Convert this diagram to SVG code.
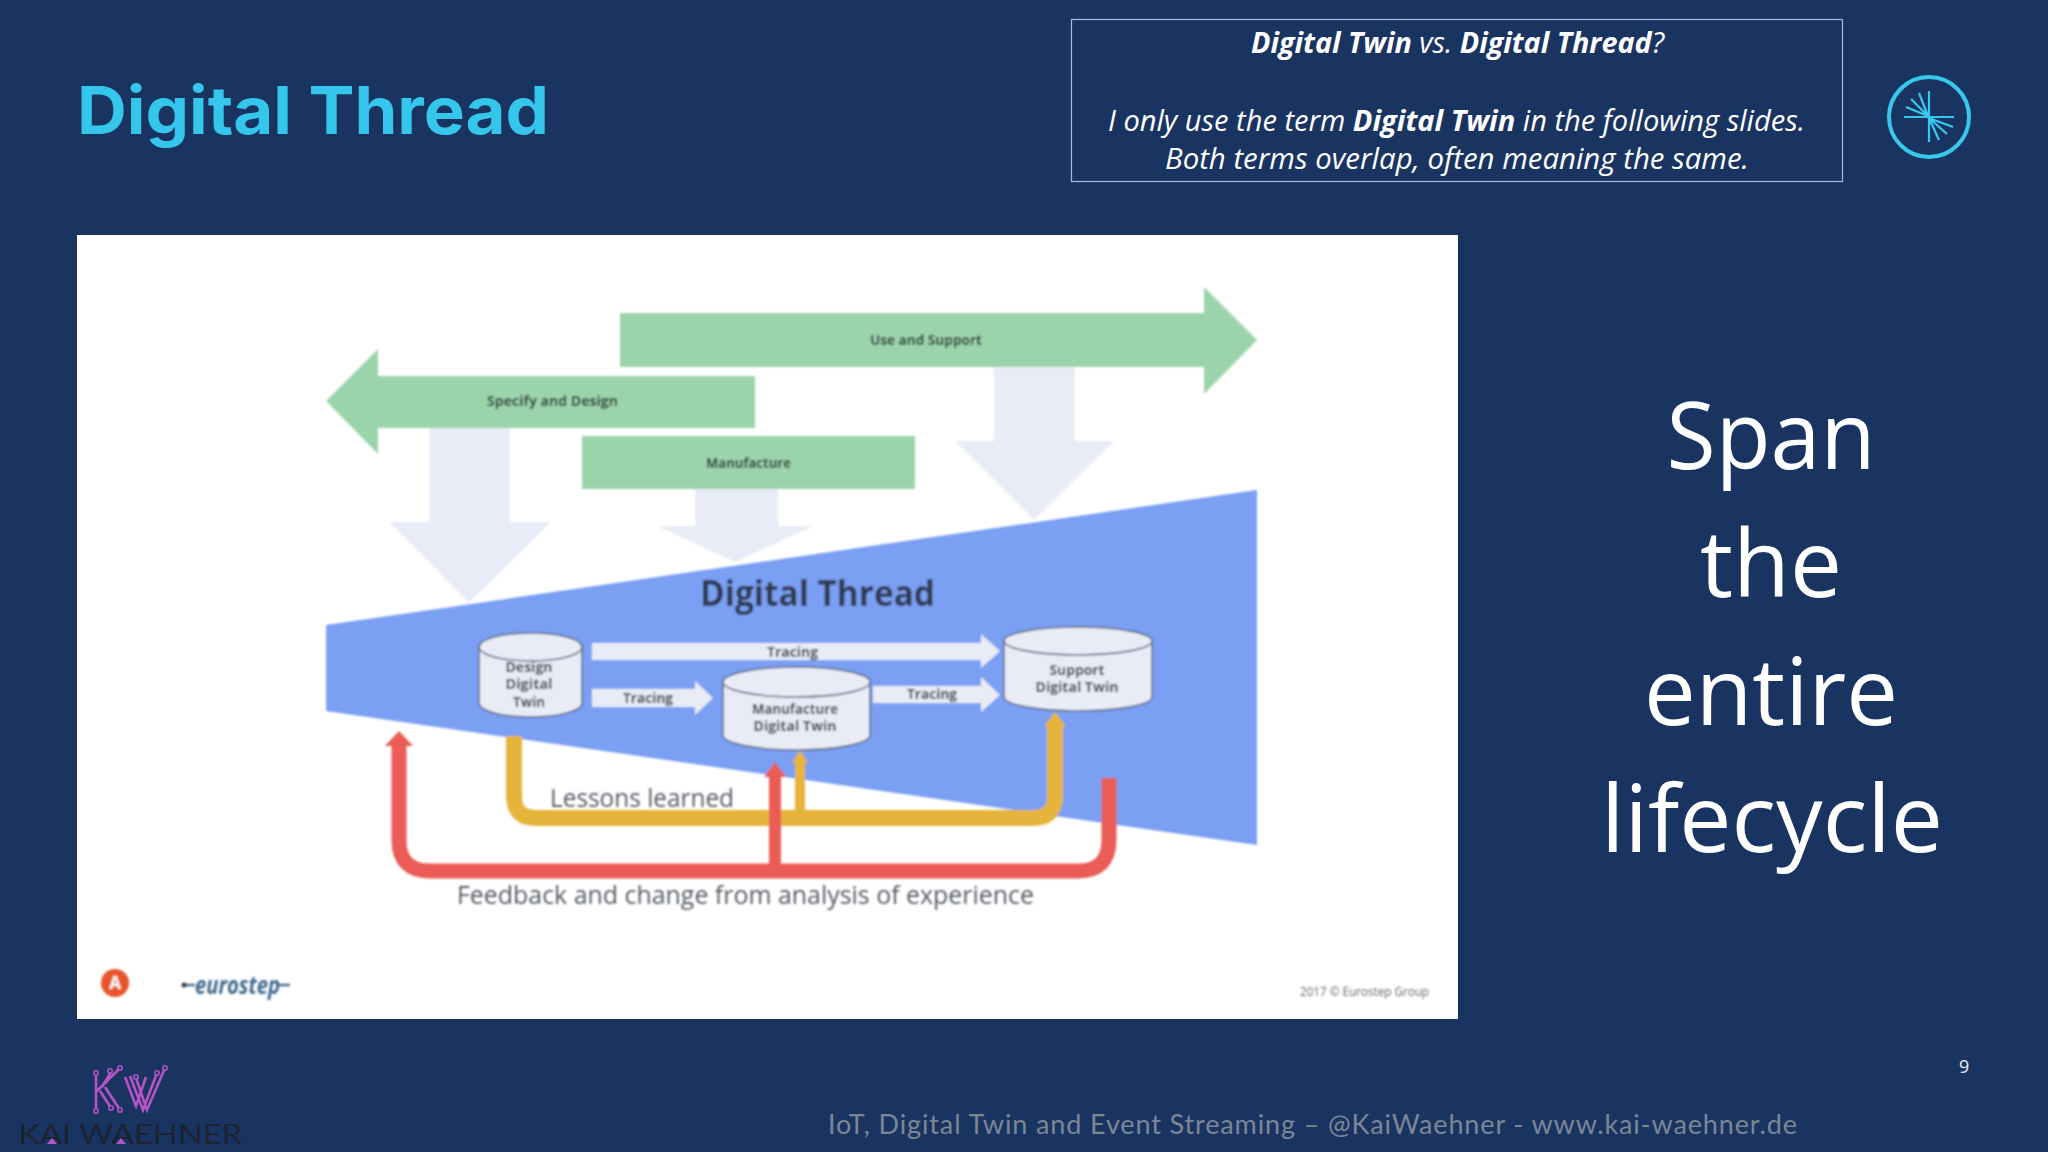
<svg xmlns="http://www.w3.org/2000/svg" width="2048" height="1152" viewBox="0 0 2048 1152">
<defs>
<filter id="soft" x="0" y="0" width="1" height="1" filterUnits="objectBoundingBox"><feGaussianBlur stdDeviation="1"/></filter>
<filter id="soft2" x="-5%" y="-5%" width="110%" height="110%"><feGaussianBlur stdDeviation="0.5"/></filter>
</defs>
<style>
.green{fill:#9bd4aa}
.pale{fill:#e9ecf6}
.cyl{fill:#e9ecf6;stroke:#5d6b82;stroke-width:1.6}
.sans{font-family:"Open Sans","Liberation Sans",sans-serif}
.lbl{font-family:"Open Sans","Liberation Sans",sans-serif;font-weight:700;font-size:14px;fill:#2c3b3c}
.cl{font-family:"Open Sans","Liberation Sans",sans-serif;font-weight:700;font-size:14px;fill:#38414f;text-anchor:middle}
.hand{font-family:"Open Sans","Liberation Sans",sans-serif;font-size:26px;fill:#555b63}
.note{font-family:"Open Sans","Liberation Sans",sans-serif;font-style:italic;font-size:29px;fill:#fff}
.note .b{font-weight:700}
.big{font-family:"Open Sans","Liberation Sans",sans-serif;font-size:93px;fill:#fff;text-anchor:middle}
.kw{fill:none;stroke:#b653c6;stroke-width:2.6}
.kwd{fill:#1a3462;stroke:#b653c6;stroke-width:1.5}
</style>
<rect width="2048" height="1152" fill="#1a3462"/>

<g id="title"><text x="77" y="134" font-family="Inter,Lato,sans-serif" font-weight="700" font-size="66" fill="#35c6ec" textLength="472" lengthAdjust="spacingAndGlyphs">Digital Thread</text></g>

<g id="note">
<rect x="1071.5" y="19.5" width="771" height="162" fill="none" stroke="#a3bcdc" stroke-width="1.2"/>
<text class="note" x="1251" y="53" textLength="413" lengthAdjust="spacingAndGlyphs"><tspan class="b">Digital Twin</tspan> vs. <tspan class="b">Digital Thread</tspan>?</text>
<text class="note" x="1108" y="130.500" textLength="697" lengthAdjust="spacingAndGlyphs">I only use the term <tspan class="b">Digital Twin</tspan> in the following slides.</text>
<text class="note" x="1165" y="168.500" textLength="584" lengthAdjust="spacingAndGlyphs">Both terms overlap, often meaning the same.</text>
</g>

<g id="confluent-logo" fill="none" stroke="#37c8ec">
<circle cx="1929" cy="117" r="40" stroke-width="4"/>
<path stroke-width="2.2" d="M1904,117H1954M1929,91V142M1928,116L1919,93M1928,116L1911,99M1928,116L1906,107M1929,118L1939,140M1929,118L1947,134M1929,118L1953,127"/>
</g>

<g id="picture-background"><rect x="77" y="235" width="1381" height="784" fill="#fff"/></g>

<g filter="url(#soft)">
<rect x="77" y="235" width="1381" height="784" fill="#fff" fill-opacity="0"/>

<g id="lane-arrows">
<polygon class="pale" points="429,428 510,428 510,522 551,522 469,603 389,522 429,522"/>
<polygon class="pale" points="695,489 778,489 778,526 813,526 735,562 657,526 695,526"/>
<polygon class="pale" points="994,367 1075,367 1075,441 1114,441 1034,520 955,441 994,441"/>
</g>

<g id="use-and-support">
<polygon class="green" points="620,313 1204,313 1204,287 1257,340 1204,394 1204,367 620,367"/>
<text class="lbl" x="870" y="345" textLength="112" lengthAdjust="spacingAndGlyphs">Use and Support</text>
</g>
<g id="specify-and-design">
<polygon class="green" points="755,376 378,376 378,349 326,401 378,454 378,428 755,428"/>
<text class="lbl" x="487" y="406" textLength="131" lengthAdjust="spacingAndGlyphs">Specify and Design</text>
</g>
<g id="manufacture">
<rect class="green" x="582" y="436" width="333" height="53"/>
<text class="lbl" x="706" y="468" textLength="85" lengthAdjust="spacingAndGlyphs">Manufacture</text>
</g>

<g id="digital-thread-wedge">
<polygon points="326,625 1257,490 1257,845 326,711" fill="#7a9ff3"/>
<text class="sans" x="700" y="606" font-weight="700" font-size="35" fill="#2e3a50" textLength="235" lengthAdjust="spacingAndGlyphs">Digital Thread</text>
</g>

<g id="connectors">
<g id="tracing-arrows">
<polygon class="pale" points="592,643 981,643 981,634 1000,651 981,668 981,660 592,660"/>
<polygon class="pale" points="592,689 695,689 695,681 713,698 695,715 695,707 592,707"/>
<polygon class="pale" points="873,686 981,686 981,677 1000,695 981,712 981,703 873,703"/>
<text class="lbl" x="767" y="657" textLength="51" lengthAdjust="spacingAndGlyphs">Tracing</text>
<text class="lbl" x="623" y="703" textLength="50" lengthAdjust="spacingAndGlyphs">Tracing</text>
<text class="lbl" x="907" y="699" textLength="50" lengthAdjust="spacingAndGlyphs">Tracing</text>
</g>
<g id="lessons-learned">
<path d="M800,818V760" fill="none" stroke="#e6b33a" stroke-width="10"/>
<polygon points="800,750 808,763 792,763" fill="#e6b33a"/>
<path d="M514,736V796Q514,818 536,818H1033Q1055,818 1055,796V722" fill="none" stroke="#e6b33a" stroke-width="16"/>
<polygon points="1055,712 1066,726 1044,726" fill="#e6b33a"/>
<text class="hand" x="550" y="807" textLength="184" lengthAdjust="spacingAndGlyphs">Lessons learned</text>
</g>
<g id="feedback">
<path d="M775,871V770" fill="none" stroke="#ea5b55" stroke-width="12"/>
<polygon points="775,762 786,777 764,777" fill="#ea5b55"/>
<path d="M399,742V840Q399,871 430,871H1078Q1109,871 1109,840V778" fill="none" stroke="#ea5b55" stroke-width="15"/>
<polygon points="399,731 413,746 385,746" fill="#ea5b55"/>
<text class="hand" x="457" y="904" textLength="577" lengthAdjust="spacingAndGlyphs">Feedback and change from analysis of experience</text>
</g>
</g>

<g id="design-digital-twin">
<path class="cyl" d="M479,647V703A51.500,14 0 0 0 582,703V647A51.500,14 0 0 0 479,647Z"/>
<path class="cyl" d="M479,647A51.500,14 0 0 0 582,647" style="fill:none"/>
<text class="cl" x="529" y="672" textLength="47" lengthAdjust="spacingAndGlyphs">Design</text><text class="cl" x="529" y="689" textLength="47" lengthAdjust="spacingAndGlyphs">Digital</text><text class="cl" x="529" y="707" textLength="32" lengthAdjust="spacingAndGlyphs">Twin</text>
</g>
<g id="manufacture-digital-twin">
<path class="cyl" d="M723,682V735A73.500,15 0 0 0 870,735V682A73.500,15 0 0 0 723,682Z"/>
<path class="cyl" d="M723,682A73.500,15 0 0 0 870,682" style="fill:none"/>
<text class="cl" x="795" y="714" textLength="86" lengthAdjust="spacingAndGlyphs">Manufacture</text><text class="cl" x="795" y="731" textLength="83" lengthAdjust="spacingAndGlyphs">Digital Twin</text>
</g>
<g id="support-digital-twin">
<path class="cyl" d="M1004,641V697A74,14 0 0 0 1152,697V641A74,14 0 0 0 1004,641Z"/>
<path class="cyl" d="M1004,641A74,14 0 0 0 1152,641" style="fill:none"/>
<text class="cl" x="1077" y="675" textLength="55" lengthAdjust="spacingAndGlyphs">Support</text><text class="cl" x="1077" y="692" textLength="83" lengthAdjust="spacingAndGlyphs">Digital Twin</text>
</g>

<g id="picture-footer">
<circle cx="115" cy="983" r="14" fill="#e8542c"/>
<text class="sans" x="115" y="989" font-weight="700" font-size="17" fill="#fff" text-anchor="middle">A</text>
<path d="M182,985H195M279,985H290" stroke="#4d6f8d" stroke-width="2.500"/>
<circle cx="184" cy="985" r="2.500" fill="#33404d"/>
<text class="sans" x="195" y="994" font-style="italic" font-weight="700" font-size="25" fill="#3f6b8e" textLength="85" lengthAdjust="spacingAndGlyphs">eurostep</text>
<text class="sans" x="1300" y="996" font-size="13" fill="#666" textLength="129" lengthAdjust="spacingAndGlyphs">2017 © Eurostep Group</text>
</g>
</g>

<g id="span-text">
<text class="big" x="1771" y="469" textLength="209" lengthAdjust="spacingAndGlyphs">Span</text>
<text class="big" x="1771" y="597" textLength="142" lengthAdjust="spacingAndGlyphs">the</text>
<text class="big" x="1771" y="725" textLength="254" lengthAdjust="spacingAndGlyphs">entire</text>
<text class="big" x="1772" y="852" textLength="342" lengthAdjust="spacingAndGlyphs">lifecycle</text>
</g>

<g id="page-number"><text class="sans" x="1959" y="1073" font-size="18" fill="#e6ebf3">9</text></g>

<g id="footer"><text x="828" y="1134" font-family="Lato,sans-serif" font-size="27" fill="#7c8694" textLength="969" lengthAdjust="spacing">IoT, Digital Twin and Event Streaming – @KaiWaehner - www.kai-waehner.de</text></g>

<g id="kw-logo" filter="url(#soft2)">
<path class="kw" d="M96,1073V1111M96,1092L120,1068M102,1087L111,1072M100,1091L111,1108M105,1087L120,1110M125,1077L136,1106L146,1077M130,1076L143,1110L157,1073M136,1078L147,1110L165,1068"/>
<g class="kwd"><circle cx="96" cy="1073" r="2.200"/><circle cx="96" cy="1111" r="2.200"/><circle cx="120" cy="1068" r="2.200"/><circle cx="110" cy="1071" r="2.200"/><circle cx="111" cy="1108" r="2.200"/><circle cx="120" cy="1110" r="2.200"/><circle cx="157" cy="1073" r="2.200"/><circle cx="136" cy="1077" r="2.200"/><circle cx="165" cy="1068" r="2.200"/></g>
<text x="18" y="1144" font-family="Lato,sans-serif" font-size="27" fill="#1b2230" textLength="224" lengthAdjust="spacingAndGlyphs">KAI WAEHNER</text>
<polygon points="52,1138 57,1144 47,1144" fill="#b653c6"/>
<polygon points="121,1138 126,1144 116,1144" fill="#b653c6"/>
</g>
</svg>
